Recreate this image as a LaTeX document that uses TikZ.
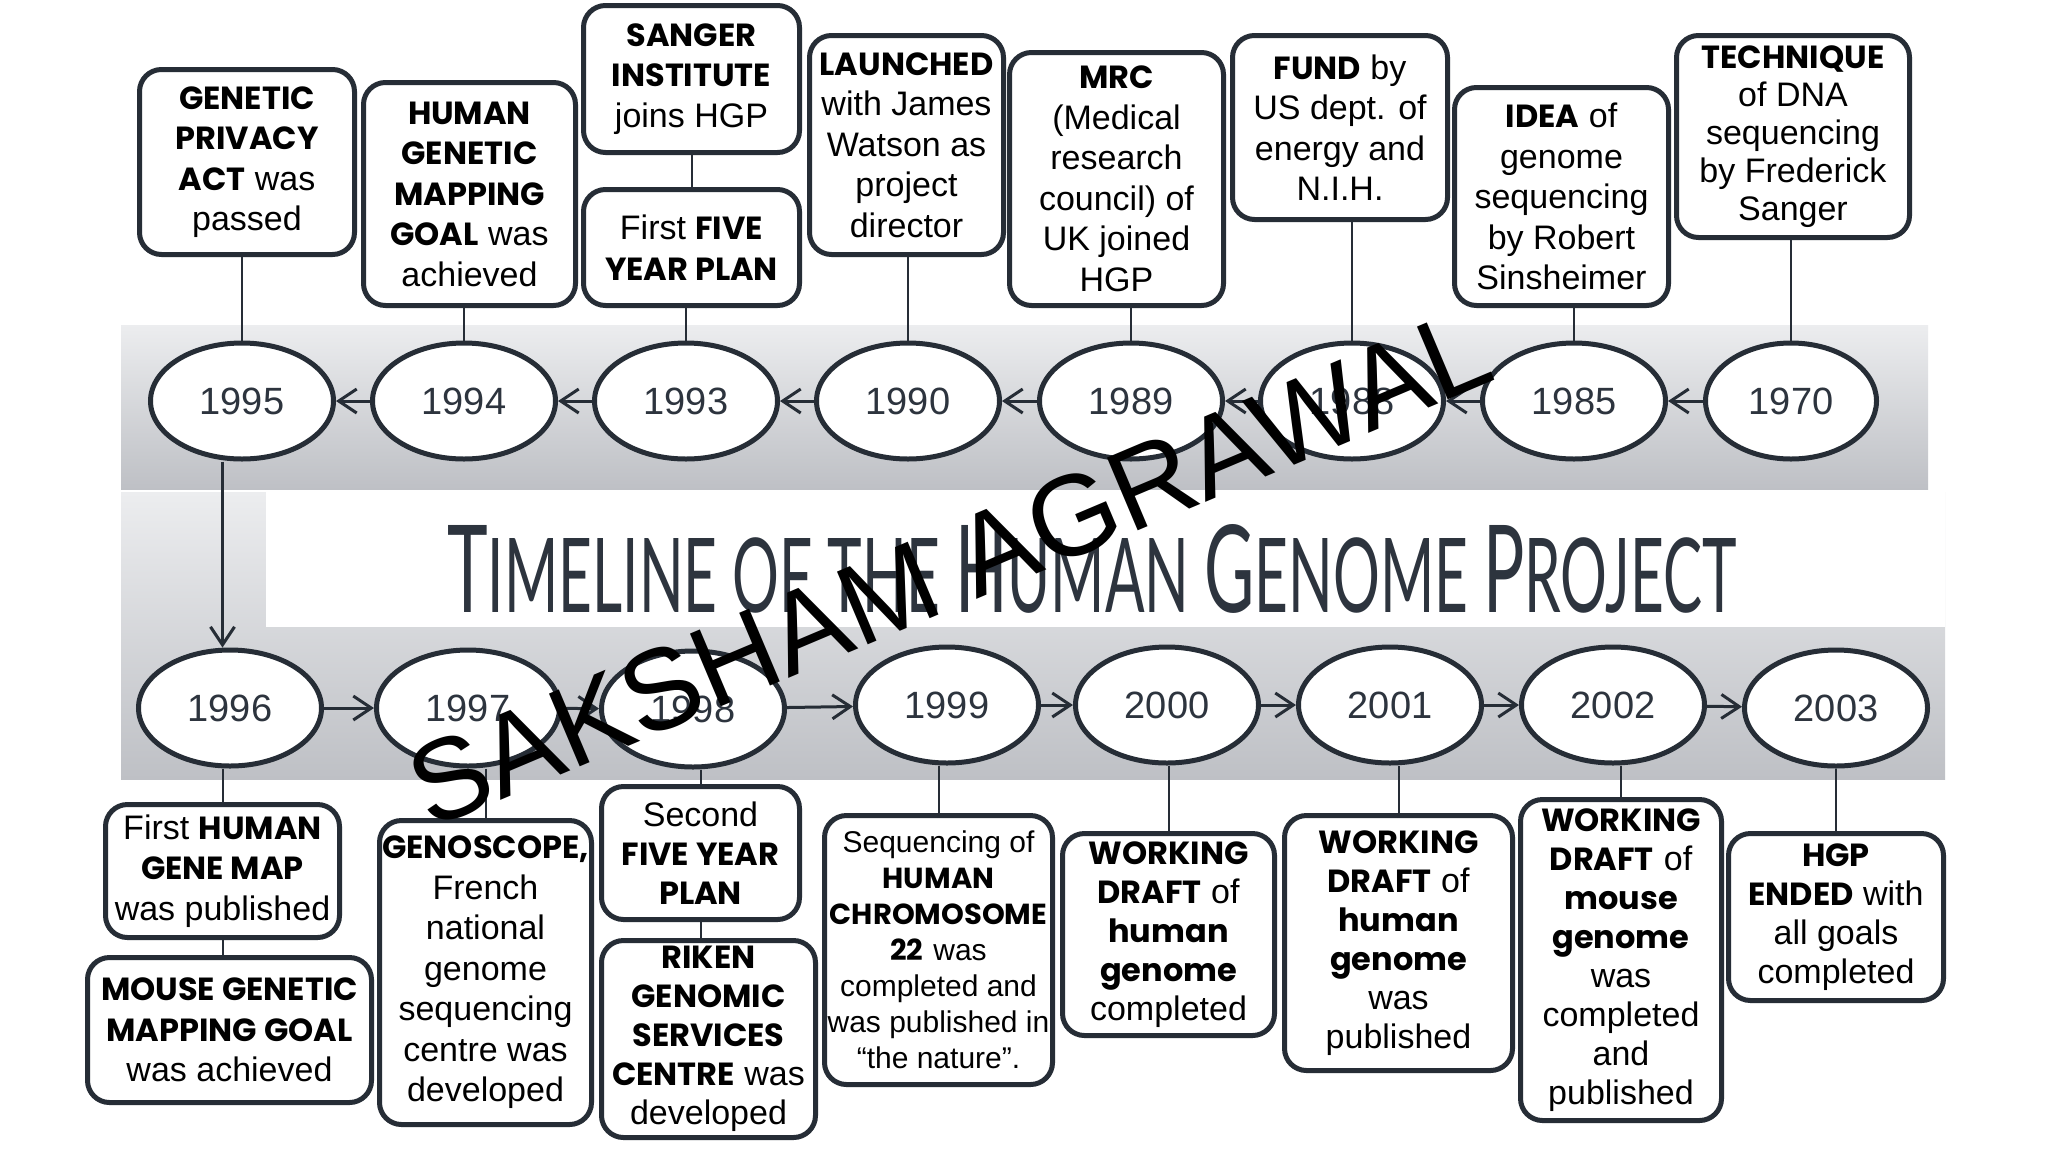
\documentclass[tikz,border=0pt]{standalone}
\usepackage{fontspec}
\usepackage{graphicx}
\setmainfont{Liberation Sans}
\newfontfamily\gb{Poppins}
\newfontfamily\thinf{Lato}
\usetikzlibrary{shapes.geometric,arrows.meta}
\definecolor{ink}{RGB}{38,45,54}
\definecolor{yeartxt}{RGB}{45,52,62}
\definecolor{bandtop}{RGB}{236,237,239}
\definecolor{bandbot}{RGB}{190,192,197}
\newcommand\kw[1]{{\gb\bfseries\fontsize{32}{40.5}\selectfont #1}}
\newcommand\kwS[1]{{\gb\bfseries\fontsize{29}{36}\selectfont #1}}
\newcommand\tbig[1]{{\fontsize{10}{12}\selectfont #1}}
\newcommand\tsml[1]{{\fontsize{8.5}{12}\selectfont #1}}
\begin{document}
\begin{tikzpicture}[x=1pt,y=-1pt,
  box/.style={draw=ink,line width=5pt,fill=white,rounded corners=22pt,inner sep=0pt,
    align=center,text=black,font=\fontsize{34}{40.5}\selectfont},
  yr/.style={ellipse,draw=ink,line width=5pt,fill=white,minimum width=183pt,
    minimum height=116pt,inner sep=0pt,text=yeartxt,font=\fontsize{38}{40}\selectfont},
  conn/.style={draw=ink,line width=2pt},
  arr/.style={draw=ink,line width=3pt,-{Straight Barb[length=18pt,width=24pt]}}]
\useasboundingbox (0,0) rectangle (2048,1152);
\fill[white] (0,0) rectangle (2048,1152);
% bands
\shade[top color=bandtop,bottom color=bandbot] (121,325) rectangle (1928,489);
\shade[top color=bandtop,bottom color=bandbot] (121,492) rectangle (1945,779);
\fill[white] (266,492) rectangle (1945,627);

% top row years
\node[yr] (y1995) at (242,401) {1995};
\node[yr] (y1994) at (464,401) {1994};
\node[yr] (y1993) at (686,401) {1993};
\node[yr] (y1990) at (908,401) {1990};
\node[yr] (y1989) at (1131,401) {1989};
\node[yr] (y1988) at (1352,401) {1988};
\node[yr] (y1985) at (1574,401) {1985};
\node[yr,minimum width=171pt] (y1970) at (1791,401) {1970};

% bottom row years
\node[yr] (y1996) at (230,708) {1996};
\node[yr] (y1997) at (468,708) {1997};
\node[yr] (y1998) at (693,709) {1998};
\node[yr] (y1999) at (947,705) {1999};
\node[yr] (y2000) at (1167,705) {2000};
\node[yr] (y2001) at (1390,705) {2001};
\node[yr] (y2002) at (1613,705) {2002};
\node[yr] (y2003) at (1836,708) {2003};

% top boxes
\node[box,minimum width=215pt,minimum height=185pt] (b1) at (247,162)
  {\kw{GENETIC}\\\kw{PRIVACY}\\\kw{ACT} was\\passed};
\node[box,minimum width=212pt,minimum height=223pt] (b2) at (469.5,194)
  {\kw{HUMAN}\\\kw{GENETIC}\\\kw{MAPPING}\\\kw{GOAL} was\\achieved};
\node[box,minimum width=216pt,minimum height=147pt] (b3a) at (691.5,79)
  {\kw{SANGER}\\\kw{INSTITUTE}\\joins HGP};
\node[box,minimum width=216pt,minimum height=116pt] (b3b) at (691.5,247.5)
  {First \kw{FIVE}\\\kw{YEAR PLAN}};
\node[box,minimum width=194pt,minimum height=219pt] (b4) at (906.5,145)
  {\kw{LAUNCHED}\\with James\\Watson as\\project\\director};
\node[box,minimum width=214pt,minimum height=253pt] (b5) at (1116.5,179)
  {\kw{MRC}\\(Medical\\research\\council) of\\UK joined\\HGP};
\node[box,minimum width=215pt,minimum height=184pt] (b6) at (1340,127.5)
  {\kw{FUND} by\\US dept. of\\energy and\\N.I.H.};
\node[box,minimum width=214pt,minimum height=218pt] (b7) at (1561.5,196.5)
  {\kw{IDEA} of\\genome\\sequencing\\by Robert\\Sinsheimer};
\node[box,minimum width=233pt,minimum height=202pt,font=\fontsize{34}{38}\selectfont] (b8) at (1793,136.5)
  {\kw{TECHNIQUE}\\of DNA\\sequencing\\by Frederick\\Sanger};

% bottom boxes
\node[box,minimum width=234pt,minimum height=133pt] (bb1) at (222.5,871)
  {First \kw{HUMAN}\\\kw{GENE MAP}\\was published};
\node[box,minimum width=284pt,minimum height=145pt] (bb1b) at (229.5,1030)
  {\kw{MOUSE GENETIC}\\\kw{MAPPING GOAL}\\was achieved};
\node[box,minimum width=212pt,minimum height=304pt] (bb2) at (485.5,972.5)
  {\kw{GENOSCOPE,}\\French\\national\\genome\\sequencing\\centre was\\developed};
\node[box,minimum width=198pt,minimum height=133pt,font=\fontsize{34}{39}\selectfont] (bb3) at (700.5,853)
  {Second\\\kw{FIVE YEAR}\\\kw{PLAN}};
\node[box,minimum width=214pt,minimum height=197pt,font=\fontsize{34}{39}\selectfont] (bb3b) at (708.5,1039)
  {\kw{RIKEN}\\\kw{GENOMIC}\\\kw{SERVICES}\\\kw{CENTRE} was\\developed};
\node[box,minimum width=228pt,minimum height=269pt,font=\fontsize{30}{36}\selectfont] (bb4) at (938.5,950)
  {Sequencing of\\\kwS{HUMAN}\\\kwS{CHROMOSOME}\\\kwS{22}\hspace{10pt}was\\completed and\\was published in\\“the nature”.};
\node[box,minimum width=212pt,minimum height=202pt,font=\fontsize{34}{39}\selectfont] (bb5) at (1168.5,934.5)
  {\kw{WORKING}\\\kw{DRAFT} of\\\kw{human}\\\kw{genome}\\completed};
\node[box,minimum width=228pt,minimum height=255pt,font=\fontsize{34}{39}\selectfont] (bb6) at (1398.5,943)
  {\kw{WORKING}\\\kw{DRAFT} of\\\kw{human}\\\kw{genome}\\was\\published};
\node[box,minimum width=201pt,minimum height=321pt,font=\fontsize{34}{39}\selectfont] (bb7) at (1621,960)
  {\kw{WORKING}\\\kw{DRAFT}\hspace{10pt}of\\\kw{mouse}\\\kw{genome}\\was\\completed\\and\\published};
\node[box,minimum width=215pt,minimum height=167pt,font=\fontsize{34}{39}\selectfont] (bb8) at (1836,917)
  {\kw{HGP}\\\kw{ENDED} with\\all goals\\completed};

% connectors top
\draw[conn] (y1995.north |- b1.south) -- (y1995.north);
\draw[conn] (y1994.north |- b2.south) -- (y1994.north);
\draw[conn] (b3a.south) -- (b3a.south |- b3b.north);
\draw[conn] (y1993.north |- b3b.south) -- (y1993.north);
\draw[conn] (y1990.north |- b4.south) -- (y1990.north);
\draw[conn] (y1989.north |- b5.south) -- (y1989.north);
\draw[conn] (y1988.north |- b6.south) -- (y1988.north);
\draw[conn] (y1985.north |- b7.south) -- (y1985.north);
\draw[conn] (y1970.north |- b8.south) -- (y1970.north);

% connectors bottom
\draw[conn] (bb1.north |- y1996.south) -- (bb1.north);
\draw[conn] (bb1.south) -- (bb1.south |- bb1b.north);
\draw[conn] (bb2.north |- y1997.south) -- (bb2.north);
\draw[conn] (bb3.north |- y1998.south) -- (bb3.north);
\draw[conn] (bb3.south) -- (bb3.south |- bb3b.north);
\draw[conn] (bb4.north |- y1999.south) -- (bb4.north);
\draw[conn] (bb5.north |- y2000.south) -- (bb5.north);
\draw[conn] (bb6.north |- y2001.south) -- (bb6.north);
\draw[conn] (bb7.north |- y2002.south) -- (bb7.north);
\draw[conn] (bb8.north |- y2003.south) -- (bb8.north);

% arrows top row (right to left)
\draw[arr] (y1970) -- (y1985);
\draw[arr] (y1985) -- (y1988);
\draw[arr] (y1988) -- (y1989);
\draw[arr] (y1989) -- (y1990);
\draw[arr] (y1990) -- (y1993);
\draw[arr] (y1993) -- (y1994);
\draw[arr] (y1994) -- (y1995);
% down
\draw[arr] (y1995.south -| bb1.north) -- (y1996.north -| bb1.north);
% bottom row
\draw[arr] (y1996) -- (y1997);
\draw[arr] (y1997) -- (y1998);
\draw[arr] (y1998) -- (y1999);
\draw[arr] (y1999) -- (y2000);
\draw[arr] (y2000) -- (y2001);
\draw[arr] (y2001) -- (y2002);
\draw[arr] (y2002) -- (y2003);

% title
\node[inner sep=0pt,text=yeartxt] (title) at (1092,569)
  {\resizebox{1289pt}{88pt}{\thinf\tbig{T}\tsml{IMELINE OF THE }\tbig{H}\tsml{UMAN }\tbig{G}\tsml{ENOME }\tbig{P}\tsml{ROJECT}}};

% watermark
\node[rotate=22.9,anchor=base west,inner sep=0pt,text=black] (wm) at (430,830)
  {\resizebox{1159pt}{!}{\fontsize{100}{100}\selectfont SAKSHAM AGRAWAL}};
\end{tikzpicture}
\end{document}
